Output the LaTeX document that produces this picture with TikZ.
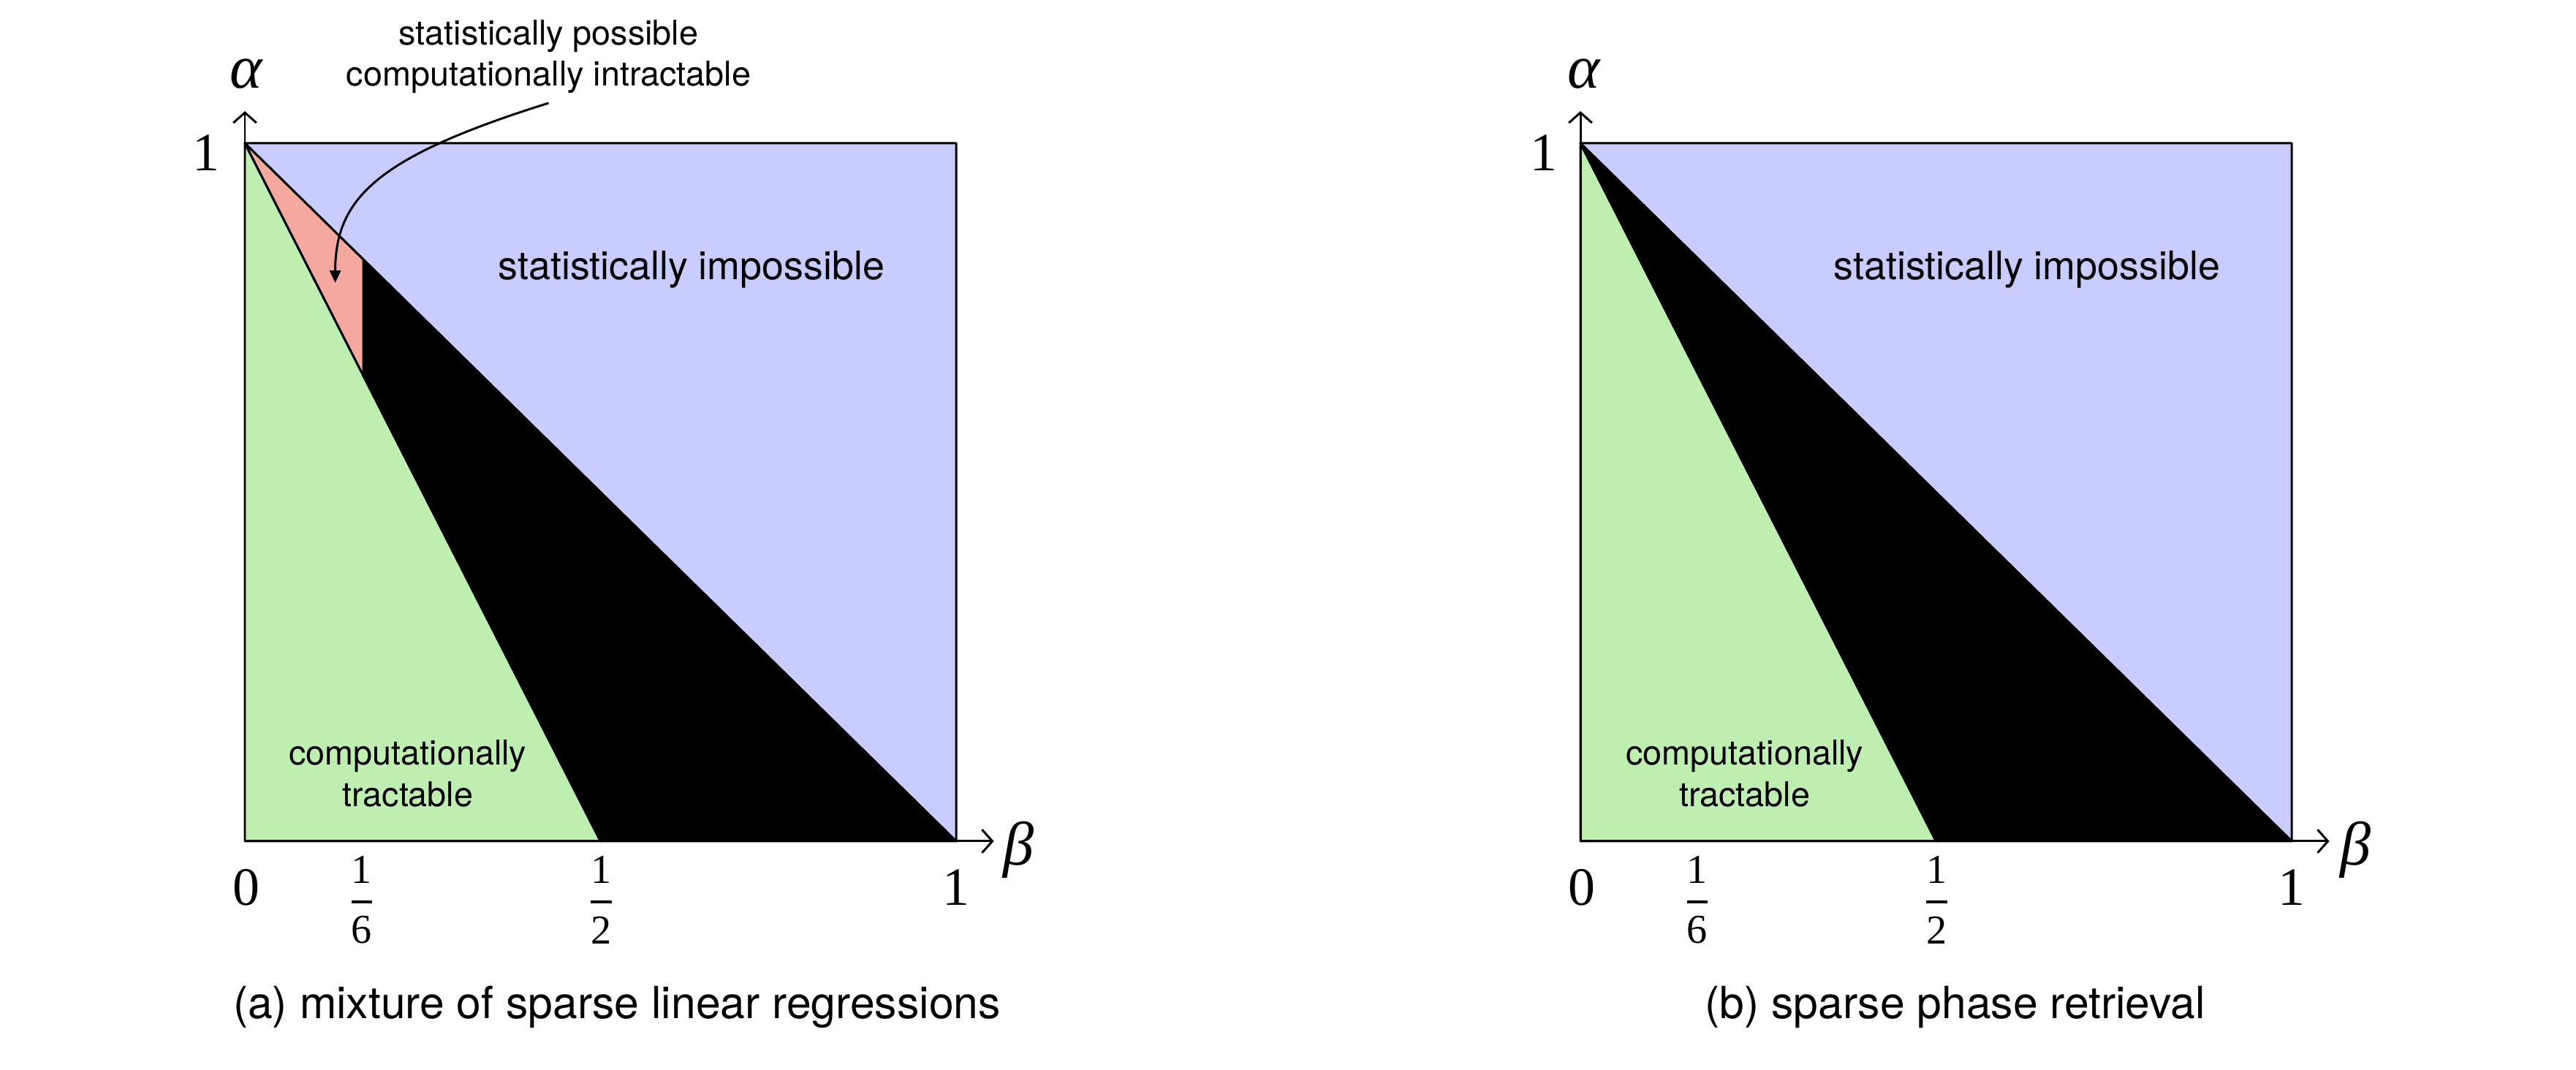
\documentclass[tikz,border=0pt]{standalone}
\usepackage{fontspec}
\setmainfont{Liberation Serif}
\newfontfamily\helv{TeX Gyre Heros}
\usepackage{amsmath}
\usetikzlibrary{arrows.meta}
\definecolor{impblue}{RGB}{200,204,255}
\definecolor{tractgreen}{RGB}{191,239,176}
\definecolor{gapred}{RGB}{245,168,158}

\begin{document}
\begin{tikzpicture}[line width=0.85pt, line join=round,
	region/.style={draw=black},
	axis/.style={-{Straight Barb[length=4pt,width=9pt]}},
	num/.style={font=\fontsize{21}{24}\selectfont},
	greek/.style={font=\fontsize{24}{27}\selectfont\itshape},
	fracnum/.style={font=\fontsize{16}{19}\selectfont},
	txt/.style={font=\helv\fontsize{13.3}{16}\selectfont, align=center},
	bigtxt/.style={font=\helv\fontsize{15.3}{18}\selectfont},
	caption/.style={font=\helv\fontsize{17.25}{20}\selectfont}]

	\useasboundingbox (0,0) rectangle (35.24,14.64);

	% (a) mixture of sparse linear regressions
	\begin{scope}[shift={(3.35,3.13)}, x=9.73cm, y=9.55cm]
		\filldraw[region, fill=impblue] (0,1) -- (1,1) -- (1,0) -- cycle;
		\filldraw[region, fill=tractgreen] (0,0) -- (0.5,0) -- (0,1) -- cycle;
		\filldraw[region, fill=black] (1/6,5/6) -- (1,0) -- (0.5,0) -- (1/6,2/3) -- cycle;
		\filldraw[region, fill=gapred] (0,1) -- (1/6,5/6) -- (1/6,2/3) -- cycle;
		\draw[axis] (0,0) -- (1.053,0);
		\draw[axis] (0,0) -- (0,1.046);

		\node (alphaA) [greek] at (0.002,1.099) {α};
		\node (betaA) [greek] at (1.088,-0.012) {β};
		\node (oneyA) [num] at (-0.055,0.986) {1};
		\node (zeroA) [num] at (0.002,-0.066) {0};
		\node (onexA) [num] at (1.0,-0.066) {1};
		\node (sixthA) [fracnum] at (0.164,-0.084) {$\genfrac{}{}{1.1pt}{0}{\mbox{1}}{\mbox{6}}$};
		\node (halfA) [fracnum] at (0.501,-0.084) {$\genfrac{}{}{1.1pt}{0}{\mbox{1}}{\mbox{2}}$};

		\node (impA) [bigtxt] at (0.628,0.819) {statistically impossible};
		\node (tractA) [txt] at (0.229,0.097) {computationally\\tractable};
		\node (gapA) [txt] at (0.427,1.124) {statistically possible\\computationally intractable};
		\coordinate (gapTip) at (0.127,0.80);
		\draw[-{Triangle[length=4.8pt,width=4.3pt]}] (gapA.south) .. controls (0.187,0.981) and (0.127,0.922) .. (gapTip);

		\node (capA) [caption] at (0.523,-0.238) {(a) mixture of sparse linear regressions};
	\end{scope}

	% (b) sparse phase retrieval
	\begin{scope}[shift={(21.62,3.13)}, x=9.73cm, y=9.55cm]
		\filldraw[region, fill=impblue] (0,1) -- (1,1) -- (1,0) -- cycle;
		\filldraw[region, fill=tractgreen] (0,0) -- (0.5,0) -- (0,1) -- cycle;
		\filldraw[region, fill=black] (0,1) -- (1,0) -- (0.5,0) -- cycle;
		\draw[axis] (0,0) -- (1.053,0);
		\draw[axis] (0,0) -- (0,1.046);

		\node (alphaB) [greek] at (0.005,1.099) {α};
		\node (betaB) [greek] at (1.09,-0.012) {β};
		\node (oneyB) [num] at (-0.051,0.986) {1};
		\node (zeroB) [num] at (0.002,-0.066) {0};
		\node (onexB) [num] at (1.0,-0.066) {1};
		\node (sixthB) [fracnum] at (0.164,-0.084) {$\genfrac{}{}{1.1pt}{0}{\mbox{1}}{\mbox{6}}$};
		\node (halfB) [fracnum] at (0.501,-0.084) {$\genfrac{}{}{1.1pt}{0}{\mbox{1}}{\mbox{2}}$};

		\node (impB) [bigtxt] at (0.628,0.819) {statistically impossible};
		\node (tractB) [txt] at (0.231,0.097) {computationally\\tractable};

		\node (capB) [caption] at (0.527,-0.238) {(b) sparse phase retrieval};
	\end{scope}
\end{tikzpicture}
\end{document}
